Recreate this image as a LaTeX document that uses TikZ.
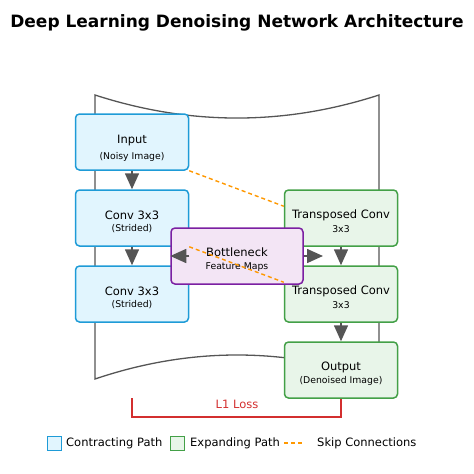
\documentclass[tikz,border=0pt]{standalone}
\usepackage{fontspec}
\setmainfont{DejaVu Sans}
\usetikzlibrary{arrows.meta}
\definecolor{contrline}{HTML}{1E9BD7}
\definecolor{contrbg}{HTML}{E1F5FE}
\definecolor{expline}{HTML}{43A047}
\definecolor{expbg}{HTML}{E8F5E9}
\definecolor{bottleline}{HTML}{7B1FA2}
\definecolor{bottlebg}{HTML}{F3E5F5}
\definecolor{skiporange}{HTML}{FF9800}
\definecolor{lossred}{HTML}{D32F2F}
\definecolor{flowgray}{HTML}{555555}

\tikzset{
  layerbox/.style={rounded corners=4pt, line width=1.5pt, minimum width=113pt, minimum height=56pt, inner sep=0pt},
  contr/.style={layerbox, draw=contrline, fill=contrbg},
  expand/.style={layerbox, draw=expline, fill=expbg},
  mainlbl/.style={inner sep=0pt, font=\fontsize{11.5}{13}\selectfont},
  sublbl/.style={inner sep=0pt, font=\fontsize{9.3}{11}\selectfont},
  flow/.style={draw=flowgray, line width=1.6pt, -{Triangle[width=14pt,length=16pt]}},
  skip/.style={draw=skiporange, line width=1.4pt, dash pattern=on 4pt off 3pt},
  keybox/.style={draw, line width=0.9pt, minimum size=14pt, inner sep=0pt},
  keytext/.style={anchor=west, inner sep=0pt, font=\fontsize{11.5}{13}\selectfont},
}

\begin{document}
\begin{tikzpicture}[x=1pt,y=-1pt]
\useasboundingbox (0,0) rectangle (474,474);

% title
\node[font=\bfseries\fontsize{17}{19}\selectfont] (title) at (237,23) {Deep Learning Denoising Network Architecture};

% outline of the network
\draw[flowgray, line width=1.3pt] (95,379) -- (95,95)
  .. controls (189.7,125.7) and (284.3,125.7) .. (379,95) -- (379,379)
  .. controls (284.3,347) and (189.7,347) .. cycle;

% contracting path
\node[contr] (input) at (132,142) {};
\node[mainlbl] (inputlbl) at ([yshift=1pt]input.center) {Input};
\node[sublbl] (inputsub) at ([yshift=-15pt]input.center) {(Noisy Image)};

\node[contr] (conv1) at (132,218) {};
\node[mainlbl] (conv1lbl) at ([yshift=3pt]conv1.center) {Conv 3x3};
\node[sublbl] (conv1sub) at ([yshift=-11pt]conv1.center) {(Strided)};

\node[contr] (conv2) at (132,294) {};
\node[mainlbl] (conv2lbl) at ([yshift=3pt]conv2.center) {Conv 3x3};
\node[sublbl] (conv2sub) at ([yshift=-11pt]conv2.center) {(Strided)};

% expanding path
\node[expand] (tconv1) at (341,218) {};
\node[mainlbl] (tconv1lbl) at ([yshift=3pt]tconv1.center) {Transposed Conv};
\node[sublbl] (tconv1sub) at ([yshift=-11pt]tconv1.center) {3x3};

\node[expand] (tconv2) at (341,294) {};
\node[mainlbl] (tconv2lbl) at ([yshift=3pt]tconv2.center) {Transposed Conv};
\node[sublbl] (tconv2sub) at ([yshift=-11pt]tconv2.center) {3x3};

\node[expand] (output) at (341,370) {};
\node[mainlbl] (outputlbl) at ([yshift=3pt]output.center) {Output};
\node[sublbl] (outputsub) at ([yshift=-11pt]output.center) {(Denoised Image)};

% bottleneck
\node[layerbox, minimum width=132pt, draw=bottleline, fill=bottlebg] (bottleneck) at (237,256) {};
\node[mainlbl] (bottlelbl) at ([yshift=4pt]bottleneck.center) {Bottleneck};
\node[sublbl] (bottlesub) at ([yshift=-11pt]bottleneck.center) {Feature Maps};

% data flow
\draw[flow] (input) -- (conv1);
\draw[flow] (conv1) -- (conv2);
\draw[flow] (tconv1) -- (tconv2);
\draw[flow] (tconv2) -- (output);
\coordinate (bleft) at (bottleneck.west -| conv1.east);
\coordinate (bright) at (323,256);
\draw[flow] (bleft) -- (bottleneck.west);
\draw[flow] (bottleneck.east) -- (bright);

% skip connections
\draw[skip] (input.south east) -- ([yshift=-17pt]tconv1.north west);
\draw[skip] (conv1.south east) -- ([yshift=-17pt]tconv2.north west);

% loss
\coordinate (losstart) at (132,398);
\draw[lossred, line width=1.3pt] (losstart) -- (132,417) -- (output.south |- 0,417) -- (output.south);
\node[text=lossred, inner sep=0pt, font=\fontsize{11.5}{13}\selectfont] (losslbl) at (237,404) {L1 Loss};

% legend
\node[keybox, draw=contrline, fill=contrbg] (keycontr) at (54.5,443) {};
\node[keytext] (keycontrlbl) at (66,443) {Contracting Path};
\node[keybox, draw=expline, fill=expbg] (keyexp) at (177.5,443) {};
\node[keytext] (keyexplbl) at (190,443) {Expanding Path};
\coordinate (keyskipa) at (284,443);
\coordinate (keyskipb) at (304,443);
\draw[skip] (keyskipa) -- (keyskipb);
\node[keytext] (keyskiplbl) at (317,443) {Skip Connections};
\end{tikzpicture}
\end{document}
